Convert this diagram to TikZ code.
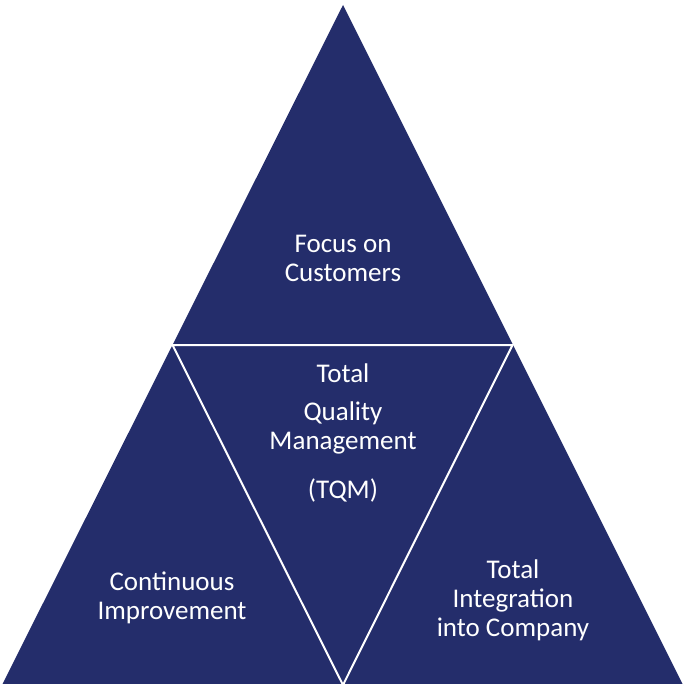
\documentclass[tikz,border=0pt]{standalone}
\usepackage{fontspec}
\setmainfont{Carlito}
\definecolor{navy}{RGB}{36,45,107}
\begin{document}
\begin{tikzpicture}[x=1pt,y=-1pt,
  lbl/.style={text=white,font=\fontsize{27}{29}\selectfont,align=center,inner sep=0pt}]
\useasboundingbox (0,0) rectangle (685,687);
\coordinate (A) at (343,5);
\coordinate (L) at (2,685);
\coordinate (R) at (683,685);
\coordinate (ML) at (172.5,345);
\coordinate (MR) at (512.5,345);
\coordinate (MB) at (343,685);
\fill[navy] (A) -- (L) -- (R) -- cycle;
\draw[white,line width=2pt] (ML) -- (MR) -- (MB) -- cycle;
\draw[white,line width=2pt] (L) -- (R);
\node[lbl] (top) at (343,258) {Focus on\\Customers};
\node[lbl] (c1) at (343,373) {Total};
\node[lbl] (c2) at (343,428) {Quality\\Management};
\node[lbl] (c3) at (343,490) {(TQM)};
\node[lbl] (left) at (172,598) {Continuous\\Improvement};
\node[lbl] (right) at (513,600) {Total\\Integration\\into Company};
\end{tikzpicture}
\end{document}
